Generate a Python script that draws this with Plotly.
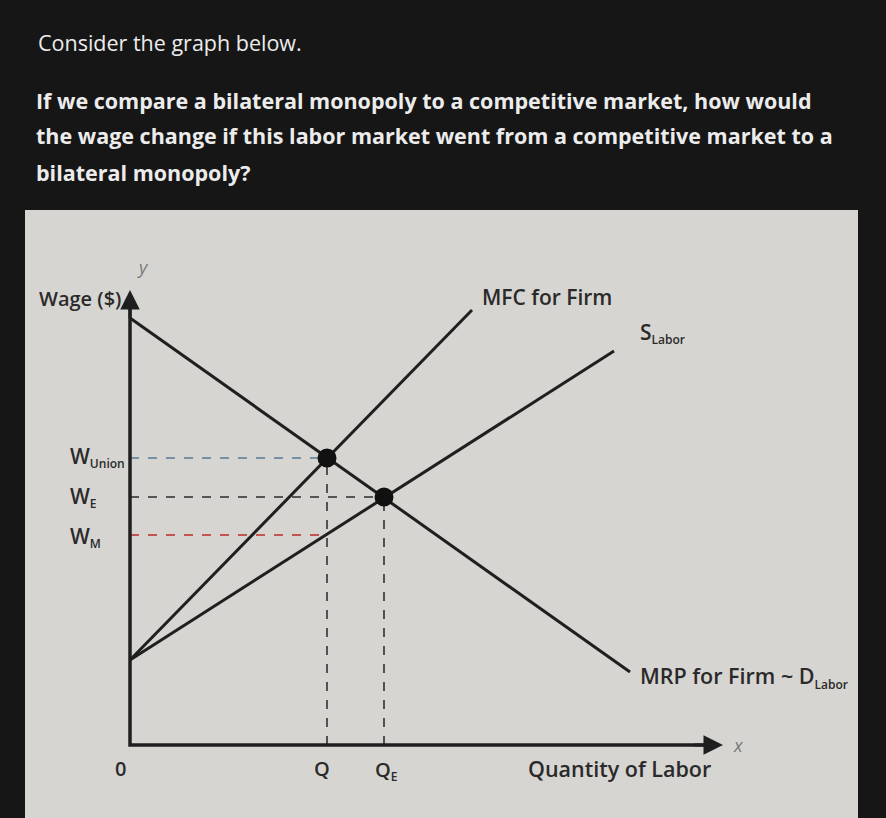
import plotly.graph_objects as go

# curve endpoints (quantity, wage in pixel-ish units)
mrp_x = [0, 500]
mrp_y = [427, 73]
mfc_x = [0, 342]
mfc_y = [85, 435]
s_x = [0, 484]
s_y = [85, 394]

# key points
q_m, q_e = 197, 254
w_union, w_e, w_m = 287, 248, 210

x_end, y_end = 593, 455

ink = "#1f1f1f"
font = "Open Sans"

fig = go.Figure()

# panel behind the chart
fig.add_shape(type="rect", x0=-105, x1=728, y0=-80, y1=535,
              fillcolor="#d7d5d1", line_width=0, layer="below")

# dashed guides
fig.add_trace(go.Scatter(x=[0, q_m], y=[w_union, w_union], mode="lines",
                         line=dict(color="#7890a4", width=1.8, dash="dash")))
fig.add_trace(go.Scatter(x=[0, q_e], y=[w_e, w_e], mode="lines",
                         line=dict(color="#555555", width=1.8, dash="dash")))
fig.add_trace(go.Scatter(x=[0, q_m], y=[w_m, w_m], mode="lines",
                         line=dict(color="#c2554f", width=1.8, dash="dash")))
fig.add_trace(go.Scatter(x=[q_m, q_m], y=[0, w_union], mode="lines",
                         line=dict(color="#444444", width=1.8, dash="dash")))
fig.add_trace(go.Scatter(x=[q_e, q_e], y=[0, w_e], mode="lines",
                         line=dict(color="#444444", width=1.8, dash="dash")))

# curves
for xs, ys in [(mrp_x, mrp_y), (mfc_x, mfc_y), (s_x, s_y)]:
    fig.add_trace(go.Scatter(x=xs, y=ys, mode="lines",
                             line=dict(color=ink, width=3)))

# axes
fig.add_trace(go.Scatter(x=[0, 0, x_end - 12], y=[y_end - 12, 0, 0], mode="lines",
                         line=dict(color=ink, width=3.5)))

# equilibrium dots
fig.add_trace(go.Scatter(x=[q_m, q_e], y=[w_union, w_e], mode="markers",
                         marker=dict(color="#111111", size=19)))

fig.add_annotation(x=0, y=y_end, ax=0, ay=y_end - 30, xref="x", yref="y",
                   axref="x", ayref="y", showarrow=True, arrowhead=2,
                   arrowsize=1.3, arrowwidth=3, arrowcolor=ink, text="")
fig.add_annotation(x=x_end, y=0, ax=x_end - 30, ay=0, xref="x", yref="y",
                   axref="x", ayref="y", showarrow=True, arrowhead=2,
                   arrowsize=1.3, arrowwidth=3, arrowcolor=ink, text="")

def label(x, y, text, size=21, color="#2a2a2a", xanchor="left", italic=False, weight=600):
    fig.add_annotation(x=x, y=y, text=text, showarrow=False, xanchor=xanchor,
                       yanchor="middle",
                       font=dict(family=font, size=size, color=color, weight=weight,
                                 style="italic" if italic else "normal"))

def sub(t):
    return "<sub><span style='font-size:12px'>" + t + "</span></sub>"

# header text
label(-94, 703, "Consider the graph below.", size=21.5, color="#ececec", weight=500)
for yy, line in [(645, "If we compare a bilateral monopoly to a competitive market, how would"),
                 (610, "the wage change if this labor market went from a competitive market to a"),
                 (573, "bilateral monopoly?")]:
    label(-96, yy, "<b>" + line + "</b>", size=21.5, color="#ececec")

# chart labels
label(13, 478, "y", size=18, color="#7a7a7a", xanchor="center", italic=True, weight=400)
label(-7, 447, "Wage ($)", size=20, xanchor="right")
label(350, 448, "MFC for Firm", size=21)
label(508, 412, "S" + sub("Labor"), size=21)
label(-62, 288, "W" + sub("Union"), size=21)
label(-62, 248, "W" + sub("E"), size=21)
label(-62, 208, "W" + sub("M"), size=21)
label(-10, -23, "0", size=20, xanchor="center")
label(q_m - 5, -23, "Q", size=20, xanchor="center")
label(q_e + 2, -25, "Q" + sub("E"), size=20, xanchor="center")
label(396, -23, "Quantity of Labor", size=21.5)
label(608, 0, "x", size=18, color="#7a7a7a", xanchor="center", italic=True, weight=400)
label(508, 68, "MRP for Firm ~ D" + sub("Labor"), size=21.5)

fig.update_layout(
    width=886, height=818,
    margin=dict(l=0, r=0, t=0, b=0),
    paper_bgcolor="#161616", plot_bgcolor="#161616",
    showlegend=False,
    xaxis=dict(range=[-130, 756], visible=False),
    yaxis=dict(range=[-73, 745], visible=False),
)

fig.write_html("out.html", config={"displayModeBar": False},
               post_script="document.body.style.margin='0';")
